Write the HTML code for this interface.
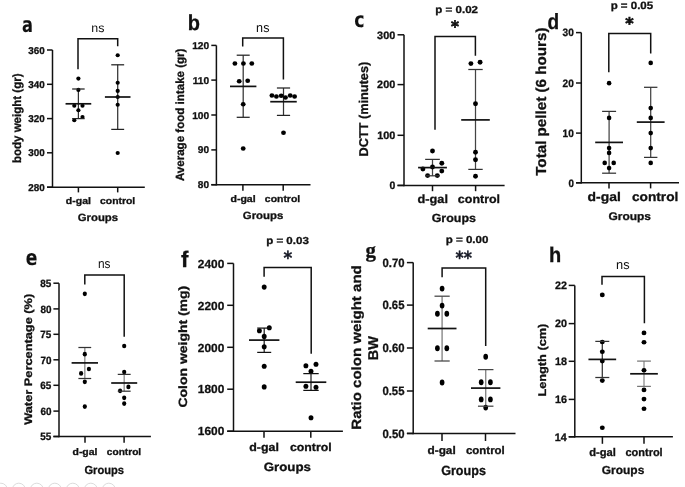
<!DOCTYPE html>
<html><head><meta charset="utf-8"><title>Figure</title>
<style>html,body{margin:0;padding:0;background:#fff;} svg{display:block;}</style></head>
<body><svg width="685" height="487" viewBox="0 0 685 487" text-rendering="geometricPrecision">
<rect width="685" height="487" fill="#fff"/>
<line x1="52.50" y1="50.00" x2="52.50" y2="187.95" stroke="#111" stroke-width="1.5"/>
<line x1="47.00" y1="187.20" x2="144.80" y2="187.20" stroke="#111" stroke-width="1.5"/>
<line x1="47.00" y1="50.00" x2="52.50" y2="50.00" stroke="#111" stroke-width="1.5"/>
<line x1="47.00" y1="84.30" x2="52.50" y2="84.30" stroke="#111" stroke-width="1.5"/>
<line x1="47.00" y1="118.60" x2="52.50" y2="118.60" stroke="#111" stroke-width="1.5"/>
<line x1="47.00" y1="152.80" x2="52.50" y2="152.80" stroke="#111" stroke-width="1.5"/>
<line x1="47.00" y1="187.20" x2="52.50" y2="187.20" stroke="#111" stroke-width="1.5"/>
<line x1="78.40" y1="187.20" x2="78.40" y2="192.40" stroke="#111" stroke-width="1.5"/>
<line x1="117.70" y1="187.20" x2="117.70" y2="192.40" stroke="#111" stroke-width="1.5"/>
<text transform="translate(28.35,53.55) scale(0.995,1)" font-family="Liberation Sans, sans-serif" font-weight="bold" font-size="9.93" fill="#111" stroke="#111" stroke-width="0.3">360</text>
<text transform="translate(28.35,87.85) scale(0.995,1)" font-family="Liberation Sans, sans-serif" font-weight="bold" font-size="9.93" fill="#111" stroke="#111" stroke-width="0.3">340</text>
<text transform="translate(28.35,122.15) scale(0.995,1)" font-family="Liberation Sans, sans-serif" font-weight="bold" font-size="9.93" fill="#111" stroke="#111" stroke-width="0.3">320</text>
<text transform="translate(28.35,156.35) scale(0.995,1)" font-family="Liberation Sans, sans-serif" font-weight="bold" font-size="9.93" fill="#111" stroke="#111" stroke-width="0.3">300</text>
<text transform="translate(28.35,190.75) scale(0.995,1)" font-family="Liberation Sans, sans-serif" font-weight="bold" font-size="9.93" fill="#111" stroke="#111" stroke-width="0.3">280</text>
<polyline points="78.00,69.30 78.00,38.80 117.70,38.80 117.70,46.30" fill="none" stroke="#111" stroke-width="1.5"/>
<line x1="78.40" y1="89.00" x2="78.40" y2="118.60" stroke="#333" stroke-width="1.25"/>
<ellipse cx="78.40" cy="78.60" rx="2.1" ry="2.05" fill="#000"/>
<ellipse cx="78.40" cy="89.90" rx="2.1" ry="2.05" fill="#000"/>
<ellipse cx="74.30" cy="105.80" rx="2.1" ry="2.05" fill="#000"/>
<ellipse cx="82.50" cy="105.80" rx="2.1" ry="2.05" fill="#000"/>
<ellipse cx="78.40" cy="110.30" rx="2.1" ry="2.05" fill="#000"/>
<ellipse cx="74.30" cy="120.30" rx="2.1" ry="2.05" fill="#000"/>
<ellipse cx="82.50" cy="117.00" rx="2.1" ry="2.05" fill="#000"/>
<line x1="72.15" y1="89.00" x2="84.65" y2="89.00" stroke="#222" stroke-width="1.25"/>
<line x1="72.15" y1="118.60" x2="84.65" y2="118.60" stroke="#222" stroke-width="1.25"/>
<line x1="65.55" y1="103.80" x2="91.25" y2="103.80" stroke="#111" stroke-width="1.7"/>
<line x1="117.70" y1="64.80" x2="117.70" y2="129.40" stroke="#333" stroke-width="1.25"/>
<ellipse cx="117.70" cy="55.30" rx="2.1" ry="2.05" fill="#000"/>
<ellipse cx="117.70" cy="82.70" rx="2.1" ry="2.05" fill="#000"/>
<ellipse cx="117.70" cy="90.90" rx="2.1" ry="2.05" fill="#000"/>
<ellipse cx="117.70" cy="97.00" rx="2.1" ry="2.05" fill="#000"/>
<ellipse cx="117.70" cy="104.70" rx="2.1" ry="2.05" fill="#000"/>
<ellipse cx="117.70" cy="153.00" rx="2.1" ry="2.05" fill="#000"/>
<line x1="111.25" y1="64.80" x2="124.15" y2="64.80" stroke="#222" stroke-width="1.25"/>
<line x1="111.25" y1="129.40" x2="124.15" y2="129.40" stroke="#222" stroke-width="1.25"/>
<line x1="104.90" y1="97.00" x2="130.50" y2="97.00" stroke="#111" stroke-width="1.7"/>
<text transform="translate(22.10,31.64) scale(0.766,1)" font-family="DejaVu Sans, sans-serif" font-weight="bold" font-size="21.21" fill="#111" stroke="#111" stroke-width="0.1">a</text>
<text transform="translate(91.33,32.10) scale(1.016,1)" font-family="Liberation Sans, sans-serif" font-weight="normal" font-size="12.22" fill="#111">ns</text>
<text transform="translate(20.60,163.06) rotate(-90) scale(0.960,1)" font-family="Liberation Sans, sans-serif" font-weight="bold" font-size="12.01" fill="#111" stroke="#111" stroke-width="0.3">body weight (gr)</text>
<text transform="translate(65.83,204.00) scale(1.106,1)" font-family="Liberation Sans, sans-serif" font-weight="bold" font-size="9.51" fill="#111" stroke="#111" stroke-width="0.3">d-gal</text>
<text transform="translate(100.03,204.00) scale(1.093,1)" font-family="Liberation Sans, sans-serif" font-weight="bold" font-size="9.51" fill="#111" stroke="#111" stroke-width="0.3">control</text>
<text transform="translate(77.80,220.60) scale(1.078,1)" font-family="Liberation Sans, sans-serif" font-weight="bold" font-size="10.50" fill="#111" stroke="#111" stroke-width="0.3">Groups</text>
<line x1="216.40" y1="45.40" x2="216.40" y2="185.45" stroke="#111" stroke-width="1.5"/>
<line x1="211.30" y1="184.70" x2="310.50" y2="184.70" stroke="#111" stroke-width="1.5"/>
<line x1="211.30" y1="45.40" x2="216.40" y2="45.40" stroke="#111" stroke-width="1.5"/>
<line x1="211.30" y1="80.10" x2="216.40" y2="80.10" stroke="#111" stroke-width="1.5"/>
<line x1="211.30" y1="115.00" x2="216.40" y2="115.00" stroke="#111" stroke-width="1.5"/>
<line x1="211.30" y1="149.90" x2="216.40" y2="149.90" stroke="#111" stroke-width="1.5"/>
<line x1="211.30" y1="184.70" x2="216.40" y2="184.70" stroke="#111" stroke-width="1.5"/>
<line x1="242.90" y1="184.70" x2="242.90" y2="190.80" stroke="#111" stroke-width="1.5"/>
<line x1="283.20" y1="184.70" x2="283.20" y2="190.80" stroke="#111" stroke-width="1.5"/>
<text transform="translate(192.14,48.95) scale(1.026,1)" font-family="Liberation Sans, sans-serif" font-weight="bold" font-size="9.93" fill="#111" stroke="#111" stroke-width="0.3">120</text>
<text transform="translate(192.66,83.65) scale(1.026,1)" font-family="Liberation Sans, sans-serif" font-weight="bold" font-size="9.93" fill="#111" stroke="#111" stroke-width="0.3">110</text>
<text transform="translate(192.14,118.55) scale(1.026,1)" font-family="Liberation Sans, sans-serif" font-weight="bold" font-size="9.93" fill="#111" stroke="#111" stroke-width="0.3">100</text>
<text transform="translate(197.85,153.45) scale(1.017,1)" font-family="Liberation Sans, sans-serif" font-weight="bold" font-size="9.93" fill="#111" stroke="#111" stroke-width="0.3">90</text>
<text transform="translate(197.85,188.25) scale(1.017,1)" font-family="Liberation Sans, sans-serif" font-weight="bold" font-size="9.93" fill="#111" stroke="#111" stroke-width="0.3">80</text>
<polyline points="242.70,46.60 242.70,37.90 283.40,37.90 283.40,79.40" fill="none" stroke="#111" stroke-width="1.5"/>
<line x1="243.20" y1="55.20" x2="243.20" y2="117.30" stroke="#333" stroke-width="1.25"/>
<ellipse cx="234.90" cy="63.40" rx="2.4" ry="2.25" fill="#000"/>
<ellipse cx="243.40" cy="63.40" rx="2.4" ry="2.25" fill="#000"/>
<ellipse cx="251.80" cy="63.40" rx="2.4" ry="2.25" fill="#000"/>
<ellipse cx="239.20" cy="81.30" rx="2.4" ry="2.25" fill="#000"/>
<ellipse cx="247.70" cy="80.70" rx="2.4" ry="2.25" fill="#000"/>
<ellipse cx="243.20" cy="104.30" rx="2.4" ry="2.25" fill="#000"/>
<ellipse cx="243.20" cy="148.60" rx="2.4" ry="2.25" fill="#000"/>
<line x1="236.70" y1="55.20" x2="249.70" y2="55.20" stroke="#222" stroke-width="1.25"/>
<line x1="236.70" y1="117.30" x2="249.70" y2="117.30" stroke="#222" stroke-width="1.25"/>
<line x1="230.00" y1="86.40" x2="256.40" y2="86.40" stroke="#111" stroke-width="1.7"/>
<line x1="283.50" y1="88.00" x2="283.50" y2="115.40" stroke="#333" stroke-width="1.25"/>
<ellipse cx="271.90" cy="95.60" rx="2.4" ry="2.25" fill="#000"/>
<ellipse cx="276.40" cy="96.50" rx="2.4" ry="2.25" fill="#000"/>
<ellipse cx="281.20" cy="95.80" rx="2.4" ry="2.25" fill="#000"/>
<ellipse cx="285.50" cy="97.50" rx="2.4" ry="2.25" fill="#000"/>
<ellipse cx="290.20" cy="95.60" rx="2.4" ry="2.25" fill="#000"/>
<ellipse cx="294.60" cy="96.50" rx="2.4" ry="2.25" fill="#000"/>
<ellipse cx="283.50" cy="132.70" rx="2.4" ry="2.25" fill="#000"/>
<line x1="276.90" y1="88.00" x2="290.10" y2="88.00" stroke="#222" stroke-width="1.25"/>
<line x1="276.90" y1="115.40" x2="290.10" y2="115.40" stroke="#222" stroke-width="1.25"/>
<line x1="270.25" y1="101.70" x2="296.75" y2="101.70" stroke="#111" stroke-width="1.7"/>
<text transform="translate(187.85,29.80) scale(0.926,1)" font-family="Liberation Sans, sans-serif" font-weight="bold" font-size="21.60" fill="#111" stroke="#111" stroke-width="0.3">b</text>
<text transform="translate(256.12,31.80) scale(0.974,1)" font-family="Liberation Sans, sans-serif" font-weight="normal" font-size="12.96" fill="#111">ns</text>
<text transform="translate(184.20,181.10) rotate(-90) scale(0.975,1)" font-family="Liberation Sans, sans-serif" font-weight="bold" font-size="11.87" fill="#111" stroke="#111" stroke-width="0.3">Average food intake (gr)</text>
<text transform="translate(230.53,201.80) scale(1.106,1)" font-family="Liberation Sans, sans-serif" font-weight="bold" font-size="9.51" fill="#111" stroke="#111" stroke-width="0.3">d-gal</text>
<text transform="translate(264.83,201.80) scale(1.099,1)" font-family="Liberation Sans, sans-serif" font-weight="bold" font-size="9.51" fill="#111" stroke="#111" stroke-width="0.3">control</text>
<text transform="translate(242.79,218.60) scale(1.084,1)" font-family="Liberation Sans, sans-serif" font-weight="bold" font-size="10.50" fill="#111" stroke="#111" stroke-width="0.3">Groups</text>
<line x1="404.00" y1="34.80" x2="404.00" y2="186.15" stroke="#111" stroke-width="1.5"/>
<line x1="397.50" y1="185.40" x2="504.60" y2="185.40" stroke="#111" stroke-width="1.5"/>
<line x1="397.50" y1="34.80" x2="404.00" y2="34.80" stroke="#111" stroke-width="1.5"/>
<line x1="397.50" y1="84.60" x2="404.00" y2="84.60" stroke="#111" stroke-width="1.5"/>
<line x1="397.50" y1="135.30" x2="404.00" y2="135.30" stroke="#111" stroke-width="1.5"/>
<line x1="397.50" y1="185.40" x2="404.00" y2="185.40" stroke="#111" stroke-width="1.5"/>
<line x1="432.50" y1="185.40" x2="432.50" y2="191.20" stroke="#111" stroke-width="1.5"/>
<line x1="475.60" y1="185.40" x2="475.60" y2="191.20" stroke="#111" stroke-width="1.5"/>
<text transform="translate(377.12,38.65) scale(1.008,1)" font-family="Liberation Sans, sans-serif" font-weight="bold" font-size="10.79" fill="#111" stroke="#111" stroke-width="0.3">300</text>
<text transform="translate(377.12,88.45) scale(1.008,1)" font-family="Liberation Sans, sans-serif" font-weight="bold" font-size="10.79" fill="#111" stroke="#111" stroke-width="0.3">200</text>
<text transform="translate(377.13,139.15) scale(1.008,1)" font-family="Liberation Sans, sans-serif" font-weight="bold" font-size="10.79" fill="#111" stroke="#111" stroke-width="0.3">100</text>
<text transform="translate(389.42,189.25) scale(0.968,1)" font-family="Liberation Sans, sans-serif" font-weight="bold" font-size="10.79" fill="#111" stroke="#111" stroke-width="0.3">0</text>
<polyline points="435.00,129.70 435.00,36.60 475.40,36.60 475.40,55.80" fill="none" stroke="#111" stroke-width="1.5"/>
<line x1="432.50" y1="159.40" x2="432.50" y2="175.80" stroke="#444" stroke-width="1.25"/>
<ellipse cx="432.50" cy="151.00" rx="2.45" ry="2.45" fill="#000"/>
<ellipse cx="422.90" cy="169.00" rx="2.45" ry="2.45" fill="#000"/>
<ellipse cx="432.50" cy="167.00" rx="2.45" ry="2.45" fill="#000"/>
<ellipse cx="441.80" cy="163.30" rx="2.45" ry="2.45" fill="#000"/>
<ellipse cx="441.80" cy="171.10" rx="2.45" ry="2.45" fill="#000"/>
<ellipse cx="427.60" cy="175.60" rx="2.45" ry="2.45" fill="#000"/>
<ellipse cx="437.30" cy="175.60" rx="2.45" ry="2.45" fill="#000"/>
<line x1="425.15" y1="159.40" x2="439.85" y2="159.40" stroke="#333" stroke-width="1.25"/>
<line x1="425.15" y1="175.80" x2="439.85" y2="175.80" stroke="#333" stroke-width="1.25"/>
<line x1="418.10" y1="167.60" x2="446.90" y2="167.60" stroke="#111" stroke-width="1.7"/>
<line x1="475.50" y1="69.50" x2="475.50" y2="169.40" stroke="#444" stroke-width="1.25"/>
<ellipse cx="470.90" cy="63.60" rx="2.45" ry="2.45" fill="#000"/>
<ellipse cx="480.10" cy="62.30" rx="2.45" ry="2.45" fill="#000"/>
<ellipse cx="475.50" cy="103.80" rx="2.45" ry="2.45" fill="#000"/>
<ellipse cx="475.50" cy="152.20" rx="2.45" ry="2.45" fill="#000"/>
<ellipse cx="475.50" cy="159.80" rx="2.45" ry="2.45" fill="#000"/>
<ellipse cx="475.50" cy="176.20" rx="2.45" ry="2.45" fill="#000"/>
<line x1="468.30" y1="69.50" x2="482.70" y2="69.50" stroke="#333" stroke-width="1.25"/>
<line x1="468.30" y1="169.40" x2="482.70" y2="169.40" stroke="#333" stroke-width="1.25"/>
<line x1="461.20" y1="119.90" x2="489.80" y2="119.90" stroke="#111" stroke-width="1.7"/>
<text transform="translate(354.26,26.64) scale(0.825,1)" font-family="DejaVu Sans, sans-serif" font-weight="bold" font-size="21.03" fill="#111" stroke="#111" stroke-width="0.1">c</text>
<text transform="translate(435.34,12.90) scale(1.132,1)" font-family="Liberation Sans, sans-serif" font-weight="bold" font-size="10.21" fill="#111" stroke="#111" stroke-width="0.3">p = 0.02</text>
<text transform="translate(450.95,31.95) scale(0.958,1)" font-family="DejaVu Sans, sans-serif" font-weight="bold" font-size="15.87" fill="#111" stroke="#111" stroke-width="0.7">*</text>
<text transform="translate(367.90,156.54) rotate(-90) scale(1.002,1)" font-family="Liberation Sans, sans-serif" font-weight="bold" font-size="12.71" fill="#111" stroke="#111" stroke-width="0.3">DCTT (minutes)</text>
<text transform="translate(417.54,202.50) scale(1.084,1)" font-family="Liberation Sans, sans-serif" font-weight="bold" font-size="11.74" fill="#111" stroke="#111" stroke-width="0.3">d-gal</text>
<text transform="translate(457.85,202.50) scale(1.062,1)" font-family="Liberation Sans, sans-serif" font-weight="bold" font-size="11.74" fill="#111" stroke="#111" stroke-width="0.3">control</text>
<text transform="translate(431.65,222.40) scale(1.058,1)" font-family="Liberation Sans, sans-serif" font-weight="bold" font-size="11.79" fill="#111" stroke="#111" stroke-width="0.3">Groups</text>
<line x1="581.30" y1="32.60" x2="581.30" y2="183.55" stroke="#111" stroke-width="1.5"/>
<line x1="576.00" y1="182.80" x2="679.00" y2="182.80" stroke="#111" stroke-width="1.5"/>
<line x1="576.00" y1="32.60" x2="581.30" y2="32.60" stroke="#111" stroke-width="1.5"/>
<line x1="576.00" y1="83.00" x2="581.30" y2="83.00" stroke="#111" stroke-width="1.5"/>
<line x1="576.00" y1="133.10" x2="581.30" y2="133.10" stroke="#111" stroke-width="1.5"/>
<line x1="576.00" y1="182.80" x2="581.30" y2="182.80" stroke="#111" stroke-width="1.5"/>
<line x1="609.00" y1="182.80" x2="609.00" y2="188.40" stroke="#111" stroke-width="1.5"/>
<line x1="650.60" y1="182.80" x2="650.60" y2="188.40" stroke="#111" stroke-width="1.5"/>
<text transform="translate(562.55,36.45) scale(0.936,1)" font-family="Liberation Sans, sans-serif" font-weight="bold" font-size="10.79" fill="#111" stroke="#111" stroke-width="0.3">30</text>
<text transform="translate(562.55,86.85) scale(0.936,1)" font-family="Liberation Sans, sans-serif" font-weight="bold" font-size="10.79" fill="#111" stroke="#111" stroke-width="0.3">20</text>
<text transform="translate(562.56,136.95) scale(0.935,1)" font-family="Liberation Sans, sans-serif" font-weight="bold" font-size="10.79" fill="#111" stroke="#111" stroke-width="0.3">10</text>
<text transform="translate(568.38,186.65) scale(0.904,1)" font-family="Liberation Sans, sans-serif" font-weight="bold" font-size="10.79" fill="#111" stroke="#111" stroke-width="0.3">0</text>
<polyline points="608.80,72.30 608.80,33.50 650.70,33.50 650.70,53.40" fill="none" stroke="#111" stroke-width="1.5"/>
<line x1="609.10" y1="111.40" x2="609.10" y2="173.20" stroke="#444" stroke-width="1.25"/>
<ellipse cx="609.10" cy="83.20" rx="2.3" ry="2.35" fill="#000"/>
<ellipse cx="609.10" cy="117.90" rx="2.3" ry="2.35" fill="#000"/>
<ellipse cx="609.10" cy="148.10" rx="2.3" ry="2.35" fill="#000"/>
<ellipse cx="609.10" cy="152.90" rx="2.3" ry="2.35" fill="#000"/>
<ellipse cx="604.70" cy="162.90" rx="2.3" ry="2.35" fill="#000"/>
<ellipse cx="613.70" cy="162.90" rx="2.3" ry="2.35" fill="#000"/>
<ellipse cx="609.10" cy="168.10" rx="2.3" ry="2.35" fill="#000"/>
<line x1="602.10" y1="111.40" x2="616.10" y2="111.40" stroke="#333" stroke-width="1.25"/>
<line x1="602.10" y1="173.20" x2="616.10" y2="173.20" stroke="#333" stroke-width="1.25"/>
<line x1="595.20" y1="142.40" x2="623.00" y2="142.40" stroke="#111" stroke-width="1.7"/>
<line x1="650.70" y1="87.30" x2="650.70" y2="157.40" stroke="#444" stroke-width="1.25"/>
<ellipse cx="650.70" cy="62.90" rx="2.3" ry="2.35" fill="#000"/>
<ellipse cx="650.70" cy="108.10" rx="2.3" ry="2.35" fill="#000"/>
<ellipse cx="650.70" cy="117.90" rx="2.3" ry="2.35" fill="#000"/>
<ellipse cx="650.70" cy="133.10" rx="2.3" ry="2.35" fill="#000"/>
<ellipse cx="650.70" cy="148.10" rx="2.3" ry="2.35" fill="#000"/>
<ellipse cx="650.70" cy="162.90" rx="2.3" ry="2.35" fill="#000"/>
<line x1="644.00" y1="87.30" x2="657.40" y2="87.30" stroke="#333" stroke-width="1.25"/>
<line x1="644.00" y1="157.40" x2="657.40" y2="157.40" stroke="#333" stroke-width="1.25"/>
<line x1="636.80" y1="122.10" x2="664.60" y2="122.10" stroke="#111" stroke-width="1.7"/>
<text transform="translate(547.39,28.70) scale(0.864,1)" font-family="Liberation Sans, sans-serif" font-weight="bold" font-size="22.01" fill="#111" stroke="#111" stroke-width="0.3">d</text>
<text transform="translate(610.64,8.70) scale(1.095,1)" font-family="Liberation Sans, sans-serif" font-weight="bold" font-size="10.50" fill="#111" stroke="#111" stroke-width="0.3">p = 0.05</text>
<text transform="translate(625.13,29.42) scale(0.997,1)" font-family="DejaVu Sans, sans-serif" font-weight="bold" font-size="16.09" fill="#111" stroke="#111" stroke-width="0.7">*</text>
<text transform="translate(546.30,175.80) rotate(-90) scale(1.048,1)" font-family="Liberation Sans, sans-serif" font-weight="bold" font-size="14.51" fill="#111" stroke="#111" stroke-width="0.3">Total pellet (6 hours)</text>
<text transform="translate(587.59,201.20) scale(1.106,1)" font-family="Liberation Sans, sans-serif" font-weight="bold" font-size="12.57" fill="#111" stroke="#111" stroke-width="0.3">d-gal</text>
<text transform="translate(631.90,201.20) scale(1.091,1)" font-family="Liberation Sans, sans-serif" font-weight="bold" font-size="12.57" fill="#111" stroke="#111" stroke-width="0.3">control</text>
<text transform="translate(608.47,219.50) scale(1.082,1)" font-family="Liberation Sans, sans-serif" font-weight="bold" font-size="11.07" fill="#111" stroke="#111" stroke-width="0.3">Groups</text>
<line x1="59.00" y1="283.20" x2="59.00" y2="437.25" stroke="#111" stroke-width="1.5"/>
<line x1="53.40" y1="436.50" x2="150.90" y2="436.50" stroke="#111" stroke-width="1.5"/>
<line x1="53.40" y1="283.20" x2="59.00" y2="283.20" stroke="#111" stroke-width="1.5"/>
<line x1="53.40" y1="308.90" x2="59.00" y2="308.90" stroke="#111" stroke-width="1.5"/>
<line x1="53.40" y1="334.30" x2="59.00" y2="334.30" stroke="#111" stroke-width="1.5"/>
<line x1="53.40" y1="359.80" x2="59.00" y2="359.80" stroke="#111" stroke-width="1.5"/>
<line x1="53.40" y1="385.30" x2="59.00" y2="385.30" stroke="#111" stroke-width="1.5"/>
<line x1="53.40" y1="411.10" x2="59.00" y2="411.10" stroke="#111" stroke-width="1.5"/>
<line x1="53.40" y1="436.50" x2="59.00" y2="436.50" stroke="#111" stroke-width="1.5"/>
<line x1="85.00" y1="436.50" x2="85.00" y2="442.70" stroke="#111" stroke-width="1.5"/>
<line x1="124.10" y1="436.50" x2="124.10" y2="442.70" stroke="#111" stroke-width="1.5"/>
<text transform="translate(40.35,286.95) scale(0.944,1)" font-family="Liberation Sans, sans-serif" font-weight="bold" font-size="10.50" fill="#111" stroke="#111" stroke-width="0.3">85</text>
<text transform="translate(40.45,312.65) scale(0.943,1)" font-family="Liberation Sans, sans-serif" font-weight="bold" font-size="10.50" fill="#111" stroke="#111" stroke-width="0.3">80</text>
<text transform="translate(40.35,338.05) scale(0.930,1)" font-family="Liberation Sans, sans-serif" font-weight="bold" font-size="10.65" fill="#111" stroke="#111" stroke-width="0.3">75</text>
<text transform="translate(40.46,363.55) scale(0.943,1)" font-family="Liberation Sans, sans-serif" font-weight="bold" font-size="10.50" fill="#111" stroke="#111" stroke-width="0.3">70</text>
<text transform="translate(40.35,389.05) scale(0.943,1)" font-family="Liberation Sans, sans-serif" font-weight="bold" font-size="10.50" fill="#111" stroke="#111" stroke-width="0.3">65</text>
<text transform="translate(40.46,414.85) scale(0.943,1)" font-family="Liberation Sans, sans-serif" font-weight="bold" font-size="10.50" fill="#111" stroke="#111" stroke-width="0.3">60</text>
<text transform="translate(40.35,440.25) scale(0.930,1)" font-family="Liberation Sans, sans-serif" font-weight="bold" font-size="10.65" fill="#111" stroke="#111" stroke-width="0.3">55</text>
<polyline points="84.80,284.50 84.80,275.10 124.20,275.10 124.20,336.70" fill="none" stroke="#111" stroke-width="1.5"/>
<line x1="84.80" y1="347.50" x2="84.80" y2="378.50" stroke="#999" stroke-width="1.5"/>
<ellipse cx="84.80" cy="293.80" rx="2.1" ry="2.35" fill="#000"/>
<ellipse cx="84.80" cy="354.20" rx="2.1" ry="2.35" fill="#000"/>
<ellipse cx="88.90" cy="369.00" rx="2.1" ry="2.35" fill="#000"/>
<ellipse cx="81.10" cy="373.40" rx="2.1" ry="2.35" fill="#000"/>
<ellipse cx="84.80" cy="381.80" rx="2.1" ry="2.35" fill="#000"/>
<ellipse cx="84.80" cy="406.60" rx="2.1" ry="2.35" fill="#000"/>
<line x1="78.40" y1="347.50" x2="91.20" y2="347.50" stroke="#333" stroke-width="1.25"/>
<line x1="78.40" y1="378.50" x2="91.20" y2="378.50" stroke="#333" stroke-width="1.25"/>
<line x1="71.60" y1="362.90" x2="98.00" y2="362.90" stroke="#111" stroke-width="1.7"/>
<line x1="124.20" y1="374.40" x2="124.20" y2="391.20" stroke="#999" stroke-width="1.5"/>
<ellipse cx="124.20" cy="346.00" rx="2.1" ry="2.35" fill="#000"/>
<ellipse cx="124.20" cy="372.10" rx="2.1" ry="2.35" fill="#000"/>
<ellipse cx="128.40" cy="386.90" rx="2.1" ry="2.35" fill="#000"/>
<ellipse cx="120.10" cy="390.80" rx="2.1" ry="2.35" fill="#000"/>
<ellipse cx="124.20" cy="397.80" rx="2.1" ry="2.35" fill="#000"/>
<ellipse cx="124.20" cy="403.60" rx="2.1" ry="2.35" fill="#000"/>
<line x1="117.75" y1="374.40" x2="130.65" y2="374.40" stroke="#333" stroke-width="1.25"/>
<line x1="117.75" y1="391.20" x2="130.65" y2="391.20" stroke="#333" stroke-width="1.25"/>
<line x1="111.20" y1="383.00" x2="137.20" y2="383.00" stroke="#111" stroke-width="1.7"/>
<text transform="translate(25.67,265.33) scale(0.794,1)" font-family="DejaVu Sans, sans-serif" font-weight="bold" font-size="21.55" fill="#111" stroke="#111" stroke-width="0.1">e</text>
<text transform="translate(97.97,267.90) scale(0.918,1)" font-family="Liberation Sans, sans-serif" font-weight="normal" font-size="12.96" fill="#111">ns</text>
<text transform="translate(32.20,424.85) rotate(-90) scale(1.175,1)" font-family="Liberation Sans, sans-serif" font-weight="bold" font-size="10.90" fill="#111" stroke="#111" stroke-width="0.3">Water Percentage (%)</text>
<text transform="translate(72.53,455.20) scale(1.097,1)" font-family="Liberation Sans, sans-serif" font-weight="bold" font-size="9.51" fill="#111" stroke="#111" stroke-width="0.3">d-gal</text>
<text transform="translate(106.84,455.20) scale(1.067,1)" font-family="Liberation Sans, sans-serif" font-weight="bold" font-size="9.51" fill="#111" stroke="#111" stroke-width="0.3">control</text>
<text transform="translate(84.40,473.90) scale(0.946,1)" font-family="Liberation Sans, sans-serif" font-weight="bold" font-size="11.79" fill="#111" stroke="#111" stroke-width="0.3">Groups</text>
<line x1="233.50" y1="263.40" x2="233.50" y2="431.95" stroke="#111" stroke-width="1.5"/>
<line x1="227.20" y1="431.20" x2="342.90" y2="431.20" stroke="#111" stroke-width="1.5"/>
<line x1="227.20" y1="263.40" x2="233.50" y2="263.40" stroke="#111" stroke-width="1.5"/>
<line x1="227.20" y1="305.30" x2="233.50" y2="305.30" stroke="#111" stroke-width="1.5"/>
<line x1="227.20" y1="347.30" x2="233.50" y2="347.30" stroke="#111" stroke-width="1.5"/>
<line x1="227.20" y1="389.20" x2="233.50" y2="389.20" stroke="#111" stroke-width="1.5"/>
<line x1="227.20" y1="431.20" x2="233.50" y2="431.20" stroke="#111" stroke-width="1.5"/>
<line x1="264.00" y1="431.20" x2="264.00" y2="437.80" stroke="#111" stroke-width="1.5"/>
<line x1="310.80" y1="431.20" x2="310.80" y2="437.80" stroke="#111" stroke-width="1.5"/>
<text transform="translate(197.79,267.60) scale(1.010,1)" font-family="Liberation Sans, sans-serif" font-weight="bold" font-size="11.79" fill="#111" stroke="#111" stroke-width="0.3">2400</text>
<text transform="translate(197.79,309.50) scale(1.010,1)" font-family="Liberation Sans, sans-serif" font-weight="bold" font-size="11.79" fill="#111" stroke="#111" stroke-width="0.3">2200</text>
<text transform="translate(197.79,351.50) scale(1.010,1)" font-family="Liberation Sans, sans-serif" font-weight="bold" font-size="11.79" fill="#111" stroke="#111" stroke-width="0.3">2000</text>
<text transform="translate(197.80,393.40) scale(1.009,1)" font-family="Liberation Sans, sans-serif" font-weight="bold" font-size="11.79" fill="#111" stroke="#111" stroke-width="0.3">1800</text>
<text transform="translate(197.80,435.40) scale(1.009,1)" font-family="Liberation Sans, sans-serif" font-weight="bold" font-size="11.79" fill="#111" stroke="#111" stroke-width="0.3">1600</text>
<polyline points="264.10,276.80 264.10,267.40 311.20,267.40 311.20,353.80" fill="none" stroke="#111" stroke-width="1.5"/>
<line x1="264.20" y1="328.10" x2="264.20" y2="352.40" stroke="#222" stroke-width="1.25"/>
<ellipse cx="264.20" cy="287.10" rx="2.45" ry="2.55" fill="#000"/>
<ellipse cx="259.40" cy="330.80" rx="2.45" ry="2.55" fill="#000"/>
<ellipse cx="269.30" cy="327.70" rx="2.45" ry="2.55" fill="#000"/>
<ellipse cx="264.20" cy="336.40" rx="2.45" ry="2.55" fill="#000"/>
<ellipse cx="264.20" cy="346.80" rx="2.45" ry="2.55" fill="#000"/>
<ellipse cx="264.20" cy="366.20" rx="2.45" ry="2.55" fill="#000"/>
<ellipse cx="264.20" cy="386.90" rx="2.45" ry="2.55" fill="#000"/>
<line x1="257.20" y1="328.10" x2="271.20" y2="328.10" stroke="#111" stroke-width="1.25"/>
<line x1="257.20" y1="352.40" x2="271.20" y2="352.40" stroke="#111" stroke-width="1.25"/>
<line x1="249.00" y1="340.10" x2="279.40" y2="340.10" stroke="#111" stroke-width="1.7"/>
<line x1="311.00" y1="373.60" x2="311.00" y2="390.40" stroke="#222" stroke-width="1.25"/>
<ellipse cx="305.90" cy="365.70" rx="2.45" ry="2.55" fill="#000"/>
<ellipse cx="316.00" cy="364.30" rx="2.45" ry="2.55" fill="#000"/>
<ellipse cx="311.00" cy="371.30" rx="2.45" ry="2.55" fill="#000"/>
<ellipse cx="305.90" cy="386.30" rx="2.45" ry="2.55" fill="#000"/>
<ellipse cx="316.00" cy="387.30" rx="2.45" ry="2.55" fill="#000"/>
<ellipse cx="311.00" cy="417.70" rx="2.45" ry="2.55" fill="#000"/>
<line x1="303.30" y1="373.60" x2="318.70" y2="373.60" stroke="#111" stroke-width="1.25"/>
<line x1="303.30" y1="390.40" x2="318.70" y2="390.40" stroke="#111" stroke-width="1.25"/>
<line x1="295.70" y1="382.20" x2="326.30" y2="382.20" stroke="#111" stroke-width="1.7"/>
<text transform="translate(180.91,266.90) scale(0.983,1)" font-family="Liberation Sans, sans-serif" font-weight="bold" font-size="22.57" fill="#111" stroke="#111" stroke-width="0.3">f</text>
<text transform="translate(266.14,243.70) scale(1.132,1)" font-family="Liberation Sans, sans-serif" font-weight="bold" font-size="10.21" fill="#111" stroke="#111" stroke-width="0.3">p = 0.03</text>
<text transform="translate(283.57,264.47) scale(0.935,1)" font-family="DejaVu Sans, sans-serif" font-weight="bold" font-size="17.83" fill="#171a26" stroke="#171a26" stroke-width="0.4">*</text>
<text transform="translate(187.20,407.51) rotate(-90) scale(1.163,1)" font-family="Liberation Sans, sans-serif" font-weight="bold" font-size="12.01" fill="#111" stroke="#111" stroke-width="0.3">Colon weight (mg)</text>
<text transform="translate(249.25,450.80) scale(1.083,1)" font-family="Liberation Sans, sans-serif" font-weight="bold" font-size="11.46" fill="#111" stroke="#111" stroke-width="0.3">d-gal</text>
<text transform="translate(289.96,450.80) scale(1.075,1)" font-family="Liberation Sans, sans-serif" font-weight="bold" font-size="11.46" fill="#111" stroke="#111" stroke-width="0.3">control</text>
<text transform="translate(263.72,471.20) scale(1.102,1)" font-family="Liberation Sans, sans-serif" font-weight="bold" font-size="12.07" fill="#111" stroke="#111" stroke-width="0.3">Groups</text>
<line x1="413.20" y1="262.60" x2="413.20" y2="434.15" stroke="#111" stroke-width="1.5"/>
<line x1="406.90" y1="433.40" x2="515.50" y2="433.40" stroke="#111" stroke-width="1.5"/>
<line x1="406.90" y1="262.60" x2="413.20" y2="262.60" stroke="#111" stroke-width="1.5"/>
<line x1="406.90" y1="305.10" x2="413.20" y2="305.10" stroke="#111" stroke-width="1.5"/>
<line x1="406.90" y1="348.00" x2="413.20" y2="348.00" stroke="#111" stroke-width="1.5"/>
<line x1="406.90" y1="391.00" x2="413.20" y2="391.00" stroke="#111" stroke-width="1.5"/>
<line x1="406.90" y1="433.40" x2="413.20" y2="433.40" stroke="#111" stroke-width="1.5"/>
<line x1="442.00" y1="433.40" x2="442.00" y2="441.00" stroke="#111" stroke-width="1.5"/>
<line x1="485.50" y1="433.40" x2="485.50" y2="441.00" stroke="#111" stroke-width="1.5"/>
<text transform="translate(382.50,266.90) scale(0.939,1)" font-family="Liberation Sans, sans-serif" font-weight="bold" font-size="12.07" fill="#111" stroke="#111" stroke-width="0.3">0.70</text>
<text transform="translate(382.38,309.40) scale(0.939,1)" font-family="Liberation Sans, sans-serif" font-weight="bold" font-size="12.07" fill="#111" stroke="#111" stroke-width="0.3">0.65</text>
<text transform="translate(382.50,352.30) scale(0.939,1)" font-family="Liberation Sans, sans-serif" font-weight="bold" font-size="12.07" fill="#111" stroke="#111" stroke-width="0.3">0.60</text>
<text transform="translate(382.38,395.30) scale(0.939,1)" font-family="Liberation Sans, sans-serif" font-weight="bold" font-size="12.07" fill="#111" stroke="#111" stroke-width="0.3">0.55</text>
<text transform="translate(382.50,437.70) scale(0.939,1)" font-family="Liberation Sans, sans-serif" font-weight="bold" font-size="12.07" fill="#111" stroke="#111" stroke-width="0.3">0.50</text>
<polyline points="442.10,277.30 442.10,268.00 485.70,268.00 485.70,346.00" fill="none" stroke="#111" stroke-width="1.5"/>
<line x1="442.10" y1="296.20" x2="442.10" y2="361.00" stroke="#888" stroke-width="1.4"/>
<ellipse cx="442.10" cy="288.60" rx="2.35" ry="2.95" fill="#000"/>
<ellipse cx="442.10" cy="305.60" rx="2.35" ry="2.95" fill="#000"/>
<ellipse cx="437.40" cy="313.80" rx="2.35" ry="2.95" fill="#000"/>
<ellipse cx="446.80" cy="313.80" rx="2.35" ry="2.95" fill="#000"/>
<ellipse cx="437.40" cy="348.20" rx="2.35" ry="2.95" fill="#000"/>
<ellipse cx="446.80" cy="348.20" rx="2.35" ry="2.95" fill="#000"/>
<ellipse cx="442.10" cy="382.50" rx="2.35" ry="2.95" fill="#000"/>
<line x1="434.50" y1="296.20" x2="449.70" y2="296.20" stroke="#444" stroke-width="1.25"/>
<line x1="434.50" y1="361.00" x2="449.70" y2="361.00" stroke="#444" stroke-width="1.25"/>
<line x1="427.70" y1="328.50" x2="456.50" y2="328.50" stroke="#111" stroke-width="1.7"/>
<line x1="485.70" y1="369.60" x2="485.70" y2="406.20" stroke="#888" stroke-width="1.4"/>
<ellipse cx="485.70" cy="356.80" rx="2.35" ry="2.95" fill="#000"/>
<ellipse cx="481.20" cy="382.30" rx="2.35" ry="2.95" fill="#000"/>
<ellipse cx="490.40" cy="382.30" rx="2.35" ry="2.95" fill="#000"/>
<ellipse cx="481.20" cy="399.40" rx="2.35" ry="2.95" fill="#000"/>
<ellipse cx="490.40" cy="399.40" rx="2.35" ry="2.95" fill="#000"/>
<ellipse cx="485.70" cy="407.60" rx="2.35" ry="2.95" fill="#000"/>
<line x1="477.95" y1="369.60" x2="493.45" y2="369.60" stroke="#444" stroke-width="1.25"/>
<line x1="477.95" y1="406.20" x2="493.45" y2="406.20" stroke="#444" stroke-width="1.25"/>
<line x1="471.00" y1="388.10" x2="500.40" y2="388.10" stroke="#111" stroke-width="1.7"/>
<text transform="translate(365.62,257.11) scale(0.989,1)" font-family="Liberation Serif, sans-serif" font-weight="bold" font-size="21.10" fill="#111" stroke="#111" stroke-width="0.3">g</text>
<text transform="translate(445.64,243.30) scale(1.134,1)" font-family="Liberation Sans, sans-serif" font-weight="bold" font-size="10.21" fill="#111" stroke="#111" stroke-width="0.3">p = 0.00</text>
<text transform="translate(455.59,264.47) scale(0.875,1)" font-family="DejaVu Sans, sans-serif" font-weight="bold" font-size="17.83" fill="#171a26" stroke="#171a26" stroke-width="0.4">**</text>
<text transform="translate(361.20,429.70) rotate(-90) scale(1.122,1)" font-family="Liberation Sans, sans-serif" font-weight="bold" font-size="13.40" fill="#111" stroke="#111" stroke-width="0.3">Ratio colon weight and</text>
<text transform="translate(378.40,360.16) rotate(-90) scale(1.024,1)" font-family="Liberation Sans, sans-serif" font-weight="bold" font-size="14.13" fill="#111" stroke="#111" stroke-width="0.3">BW</text>
<text transform="translate(427.48,453.90) scale(1.072,1)" font-family="Liberation Sans, sans-serif" font-weight="bold" font-size="11.04" fill="#111" stroke="#111" stroke-width="0.3">d-gal</text>
<text transform="translate(465.99,453.90) scale(1.038,1)" font-family="Liberation Sans, sans-serif" font-weight="bold" font-size="11.04" fill="#111" stroke="#111" stroke-width="0.3">control</text>
<text transform="translate(441.15,474.90) scale(0.942,1)" font-family="Liberation Sans, sans-serif" font-weight="bold" font-size="13.36" fill="#111" stroke="#111" stroke-width="0.3">Groups</text>
<line x1="574.80" y1="285.40" x2="574.80" y2="437.55" stroke="#111" stroke-width="1.5"/>
<line x1="568.70" y1="436.80" x2="672.90" y2="436.80" stroke="#111" stroke-width="1.5"/>
<line x1="568.70" y1="285.40" x2="574.80" y2="285.40" stroke="#111" stroke-width="1.5"/>
<line x1="568.70" y1="323.60" x2="574.80" y2="323.60" stroke="#111" stroke-width="1.5"/>
<line x1="568.70" y1="361.30" x2="574.80" y2="361.30" stroke="#111" stroke-width="1.5"/>
<line x1="568.70" y1="399.40" x2="574.80" y2="399.40" stroke="#111" stroke-width="1.5"/>
<line x1="568.70" y1="436.80" x2="574.80" y2="436.80" stroke="#111" stroke-width="1.5"/>
<line x1="602.40" y1="436.80" x2="602.40" y2="443.80" stroke="#111" stroke-width="1.5"/>
<line x1="644.00" y1="436.80" x2="644.00" y2="443.80" stroke="#111" stroke-width="1.5"/>
<text transform="translate(555.11,289.25) scale(1.000,1)" font-family="Liberation Sans, sans-serif" font-weight="bold" font-size="10.79" fill="#111" stroke="#111" stroke-width="0.3">22</text>
<text transform="translate(555.11,327.45) scale(1.000,1)" font-family="Liberation Sans, sans-serif" font-weight="bold" font-size="10.79" fill="#111" stroke="#111" stroke-width="0.3">20</text>
<text transform="translate(555.00,365.15) scale(0.999,1)" font-family="Liberation Sans, sans-serif" font-weight="bold" font-size="10.79" fill="#111" stroke="#111" stroke-width="0.3">18</text>
<text transform="translate(555.11,403.25) scale(0.999,1)" font-family="Liberation Sans, sans-serif" font-weight="bold" font-size="10.79" fill="#111" stroke="#111" stroke-width="0.3">16</text>
<text transform="translate(554.78,440.65) scale(0.985,1)" font-family="Liberation Sans, sans-serif" font-weight="bold" font-size="10.94" fill="#111" stroke="#111" stroke-width="0.3">14</text>
<polyline points="602.00,284.80 602.00,276.60 644.40,276.60 644.40,323.20" fill="none" stroke="#111" stroke-width="1.5"/>
<line x1="602.30" y1="341.40" x2="602.30" y2="377.50" stroke="#333" stroke-width="1.25"/>
<ellipse cx="602.30" cy="294.90" rx="2.45" ry="2.3" fill="#000"/>
<ellipse cx="602.30" cy="342.00" rx="2.45" ry="2.3" fill="#000"/>
<ellipse cx="602.30" cy="351.80" rx="2.45" ry="2.3" fill="#000"/>
<ellipse cx="602.30" cy="361.10" rx="2.45" ry="2.3" fill="#000"/>
<ellipse cx="602.30" cy="380.60" rx="2.45" ry="2.3" fill="#000"/>
<ellipse cx="602.30" cy="427.70" rx="2.45" ry="2.3" fill="#000"/>
<line x1="595.30" y1="341.40" x2="609.30" y2="341.40" stroke="#333" stroke-width="1.25"/>
<line x1="595.30" y1="377.50" x2="609.30" y2="377.50" stroke="#333" stroke-width="1.25"/>
<line x1="588.45" y1="359.40" x2="616.15" y2="359.40" stroke="#111" stroke-width="1.7"/>
<line x1="644.00" y1="361.10" x2="644.00" y2="386.40" stroke="#888" stroke-width="1.25"/>
<ellipse cx="644.00" cy="332.90" rx="2.45" ry="2.3" fill="#000"/>
<ellipse cx="644.00" cy="342.20" rx="2.45" ry="2.3" fill="#000"/>
<ellipse cx="644.00" cy="370.30" rx="2.45" ry="2.3" fill="#000"/>
<ellipse cx="644.00" cy="389.90" rx="2.45" ry="2.3" fill="#000"/>
<ellipse cx="644.00" cy="399.10" rx="2.45" ry="2.3" fill="#000"/>
<ellipse cx="644.00" cy="408.80" rx="2.45" ry="2.3" fill="#000"/>
<line x1="637.10" y1="361.10" x2="650.90" y2="361.10" stroke="#777" stroke-width="1.25"/>
<line x1="637.10" y1="386.40" x2="650.90" y2="386.40" stroke="#777" stroke-width="1.25"/>
<line x1="630.15" y1="373.80" x2="657.85" y2="373.80" stroke="#111" stroke-width="1.7"/>
<text transform="translate(549.05,262.20) scale(0.944,1)" font-family="Liberation Sans, sans-serif" font-weight="bold" font-size="21.18" fill="#111" stroke="#111" stroke-width="0.3">h</text>
<text transform="translate(616.10,268.80) scale(0.991,1)" font-family="Liberation Sans, sans-serif" font-weight="normal" font-size="12.96" fill="#111">ns</text>
<text transform="translate(546.10,396.54) rotate(-90) scale(1.139,1)" font-family="Liberation Sans, sans-serif" font-weight="bold" font-size="11.18" fill="#111" stroke="#111" stroke-width="0.3">Length (cm)</text>
<text transform="translate(589.20,455.70) scale(1.013,1)" font-family="Liberation Sans, sans-serif" font-weight="bold" font-size="11.04" fill="#111" stroke="#111" stroke-width="0.3">d-gal</text>
<text transform="translate(625.41,455.70) scale(0.997,1)" font-family="Liberation Sans, sans-serif" font-weight="bold" font-size="11.04" fill="#111" stroke="#111" stroke-width="0.3">control</text>
<text transform="translate(601.77,474.10) scale(1.029,1)" font-family="Liberation Sans, sans-serif" font-weight="bold" font-size="11.64" fill="#111" stroke="#111" stroke-width="0.3">Groups</text>
<circle cx="0.8" cy="489.8" r="6.6" fill="none" stroke="#dcdcdc" stroke-width="1"/>
<circle cx="18.8" cy="489.8" r="6.6" fill="none" stroke="#dcdcdc" stroke-width="1"/>
<circle cx="36.8" cy="489.8" r="6.6" fill="none" stroke="#dcdcdc" stroke-width="1"/>
<circle cx="54.8" cy="489.8" r="6.6" fill="none" stroke="#dcdcdc" stroke-width="1"/>
<circle cx="72.8" cy="489.8" r="6.6" fill="none" stroke="#dcdcdc" stroke-width="1"/>
<circle cx="90.8" cy="489.8" r="6.6" fill="none" stroke="#dcdcdc" stroke-width="1"/>
<circle cx="108.8" cy="489.8" r="6.6" fill="none" stroke="#dcdcdc" stroke-width="1"/>
</svg></body></html>
